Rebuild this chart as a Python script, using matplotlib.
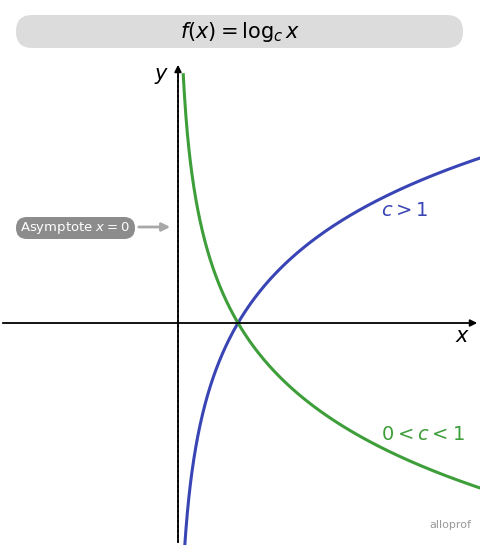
import numpy as np
import matplotlib.pyplot as plt
from matplotlib.patches import FancyBboxPatch

base_gt1 = 1.8
base_lt1 = 1 / 1.8
x_vals = np.linspace(0.02, 5.1, 600)
title = r"$f(x) = \log_c x$"
label_gt1 = r"$c > 1$"
label_lt1 = r"$0 < c < 1$"

W, H = 480, 545
ox, oy, u = 178, 323, 60.0
fig = plt.figure(figsize=(W/100, H/100), dpi=100)
ax = fig.add_axes([0, 0, 1, 1])
ax.set_xlim(-ox/u, (W-ox)/u)
ax.set_ylim(-(H-oy)/u, oy/u)
ax.axis('off')

def px(x, y):
    return ((x-ox)/u, (oy-y)/u)

blue = '#3a45b5'; green = '#3e9e3a'
yb = np.log(x_vals)/np.log(base_gt1)
yg = np.log(x_vals)/np.log(base_lt1)
mb = yb < 4.3; mg = yg < 4.3
ax.plot(x_vals[mb], yb[mb], color=blue, lw=2.2, zorder=3)
ax.plot(x_vals[mg], yg[mg], color=green, lw=2.2, zorder=3)

# axes
ax.annotate('', xy=px(480, 323), xytext=px(0, 323),
            arrowprops=dict(arrowstyle='-|>', color='black', lw=1.3, mutation_scale=10))
ax.annotate('', xy=px(178, 62), xytext=px(178, 545),
            arrowprops=dict(arrowstyle='-|>', color='black', lw=1.3, mutation_scale=10))
ax.plot([0.0, 0.0], [px(0, 70)[1], px(0, 545)[1]], color='black', lw=1.2,
        ls=(0, (1.5, 1.5)), zorder=2)
ax.text(*px(463, 336), r"$x$", fontsize=15, ha='center', va='center')
ax.text(*px(162, 76), r"$y$", fontsize=15, ha='center', va='center')
ax.text(*px(405, 210), label_gt1, fontsize=14, color=blue, ha='center', va='center')
ax.text(*px(423, 435), label_lt1, fontsize=14, color=green, ha='center', va='center')

# title box
x0, y0 = px(16, 48); x1, y1 = px(463, 15)
ax.add_patch(FancyBboxPatch((x0, y0), x1-x0, y1-y0, boxstyle='round,pad=0,rounding_size=0.27',
                            fc='#dcdcdc', ec='none', zorder=4))
ax.text(*px(240, 32), title, fontsize=15, ha='center', va='center', zorder=5)

# asymptote label
x0, y0 = px(16, 239); x1, y1 = px(135, 217)
ax.add_patch(FancyBboxPatch((x0, y0), x1-x0, y1-y0, boxstyle='round,pad=0,rounding_size=0.18',
                            fc='#8c8c8c', ec='none', zorder=4))
ax.text(*px(75, 228), r"Asymptote $x = 0$", fontsize=9.5, color='white',
        ha='center', va='center', zorder=5)
ax.annotate('', xy=px(173, 227), xytext=px(136, 227),
            arrowprops=dict(arrowstyle='-|>', color='#a8a8a8', lw=2, mutation_scale=12))

ax.text(*px(450, 525), "alloprof", fontsize=8, color='#999999', ha='center', va='center')

fig.savefig('out.png', dpi=100)
